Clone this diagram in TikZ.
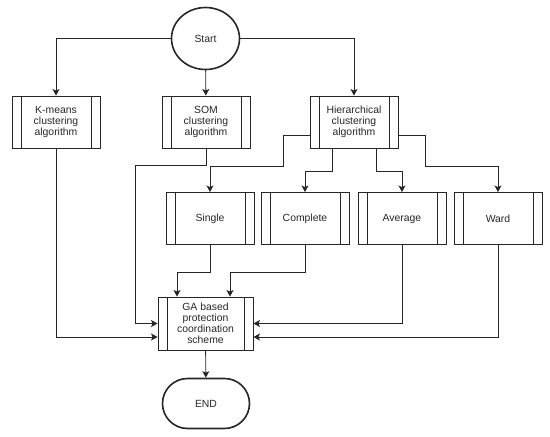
\documentclass[tikz,border=0pt]{standalone}
\usepackage{fontspec}
\setmainfont{Liberation Sans}
\usetikzlibrary{arrows.meta,shapes.geometric}

\begin{document}
\begin{tikzpicture}[x=1pt, y=-1pt, >={Stealth[length=6.5pt,width=7pt,inset=1.5pt]}, line width=0.9pt, color={black!85}]
		
		% Styles
		\tikzstyle{proc} = [draw, align=center, minimum width=88pt, minimum height=52pt, inner sep=1pt,
			font=\fontsize{10.4}{11}\selectfont,
			path picture={\draw ([xshift=9pt]path picture bounding box.north west) -- ([xshift=9pt]path picture bounding box.south west)
				([xshift=-9pt]path picture bounding box.north east) -- ([xshift=-9pt]path picture bounding box.south east);}];
		\tikzstyle{term} = [draw, line width=1.6pt, align=center, font=\fontsize{10.4}{11}\selectfont];
		
		\useasboundingbox (0,0) rectangle (550,437);
		
		% Nodes
		\node[term, ellipse, minimum width=68pt, minimum height=62pt, inner sep=0pt] (start) at (205.5,38.5) {Start};
		
		\node[proc] (kmeans) at (56,122) {K-means\\clustering\\algorithm};
		\node[proc] (som) at (206,122) {SOM\\clustering\\algorithm};
		\node[proc] (hier) at (354,122) {Hierarchical\\clustering\\algorithm};
		
		\node[proc] (single) at (210,218.5) {Single};
		\node[proc] (complete) at (305,218.5) {Complete};
		\node[proc] (average) at (402,218.5) {Average};
		\node[proc] (ward) at (498,218.5) {Ward};
		
		\node[proc, minimum width=95pt, minimum height=53pt] (ga) at (205.5,323.5)
		{GA based\\protection\\coordination\\scheme};
		
		\node[term, minimum width=87pt, minimum height=50pt, rounded corners=25pt] (end) at (206,403.5) {END};
		
		% Arrows
		\draw[->] (start) -| (kmeans);
		\draw[->] (start) -- (som);
		\draw[->] (start) -| (hier);
		
		\draw[->] ([yshift=-13pt]hier.west) -| ++(-26,31) -| (single);
		\draw[->] ([xshift=-22pt]hier.south) -- ++(0,23) -| (complete);
		\draw[->] ([xshift=22pt]hier.south) -- ++(0,23) -| (average);
		\draw[->] ([yshift=-13pt]hier.east) -| ++(27,31) -| (ward);
		
		\draw[->] (kmeans) |- ([yshift=-13.5pt]ga.west);
		\draw[->] (som.south) -- ++(0,17) -| ([xshift=-22pt]ga.west) -- (ga.west);
		\draw[->] (single.south) -- ++(0,27) -| ([xshift=-28.5pt]ga.north);
		\draw[->] (complete.south) -- ++(0,27) -| ([xshift=24.5pt]ga.north);
		\draw[->] (average) |- (ga.east);
		\draw[->] (ward) |- ([yshift=-13.5pt]ga.east);
		
		\draw[->] (ga) -- (end);
		
	\end{tikzpicture}
\end{document}
